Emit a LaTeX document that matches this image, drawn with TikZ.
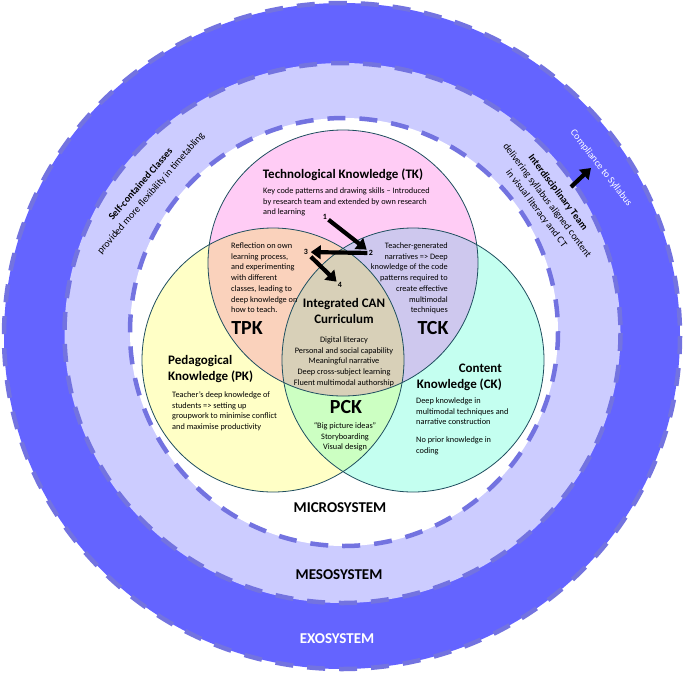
\documentclass[tikz,border=0pt]{standalone}
\usepackage{fontspec}
\setmainfont{Carlito}
\usetikzlibrary{arrows.meta}
\definecolor{exo}{HTML}{6464FF}
\definecolor{meso}{HTML}{CCCCFF}
\definecolor{dashc}{HTML}{7373E0}
\definecolor{tkc}{HTML}{FFCCF5}
\definecolor{pkc}{HTML}{FFFFC6}
\definecolor{ckc}{HTML}{C4FFF0}
\definecolor{tpkc}{HTML}{FAD2BC}
\definecolor{tckc}{HTML}{CEC8EE}
\definecolor{pckc}{HTML}{CCFFC2}
\definecolor{canc}{HTML}{D8D0B8}
\definecolor{vennc}{HTML}{1F4E5F}
\begin{document}
\begin{tikzpicture}[x=1pt,y=-1pt,
  ringline/.style={draw=dashc, line width=4.5pt, dash pattern=on 18pt off 14pt},
  vennline/.style={draw=vennc, line width=0.8pt},
  bodytext/.style={font=\fontsize{8.3}{10.7}\selectfont, inner sep=0pt},
  headtext/.style={font=\fontsize{13}{16.5}\selectfont\bfseries, inner sep=0pt},
  bigtext/.style={font=\fontsize{20}{24}\selectfont\bfseries, inner sep=0pt},
  systext/.style={font=\fontsize{15}{18}\selectfont\bfseries, inner sep=0pt},
  numlabel/.style={font=\fontsize{8}{9}\selectfont\bfseries, inner sep=0.5pt},
  bigarrow/.style={line width=4.2pt, -{Triangle[length=10pt,width=13.5pt]}},
  ringtext/.style={font=\fontsize{10}{13.5}\selectfont, inner sep=0pt, align=center},
]
\useasboundingbox (0,0) rectangle (685,672);
\fill[white] (0,0) rectangle (685,672);
% rings
\filldraw[ringline, fill=exo] (342,336) ellipse [x radius=338, y radius=333];
\filldraw[ringline, fill=meso] (342.5,333) ellipse [x radius=278, y radius=270];
\filldraw[ringline, fill=white] (344,332) ellipse [x radius=214, y radius=214];
% venn fills
\fill[tkc] (343,263) ellipse [x radius=135, y radius=133];
\fill[pkc] (273,360) ellipse [x radius=131, y radius=132];
\fill[ckc] (413,360) ellipse [x radius=131, y radius=132];
\begin{scope}
  \clip (343,263) ellipse [x radius=135, y radius=133];
  \fill[tpkc] (273,360) ellipse [x radius=131, y radius=132];
  \fill[tckc] (413,360) ellipse [x radius=131, y radius=132];
\end{scope}
\begin{scope}
  \clip (273,360) ellipse [x radius=131, y radius=132];
  \fill[pckc] (413,360) ellipse [x radius=131, y radius=132];
  \clip (413,360) ellipse [x radius=131, y radius=132];
  \fill[canc] (343,263) ellipse [x radius=135, y radius=133];
\end{scope}
\draw[vennline] (343,263) ellipse [x radius=135, y radius=133];
\draw[vennline] (273,360) ellipse [x radius=131, y radius=132];
\draw[vennline] (413,360) ellipse [x radius=131, y radius=132];
% TK
\node[headtext, anchor=base] (tkT) at (343,178) {Technological Knowledge (TK)};
\node[bodytext, anchor=base west, align=left] (tkB) at (263,214.9) {Key code patterns and drawing skills – Introduced\\by research team and extended by own research\\and learning};
% TPK / TCK
\node[bodytext, anchor=base west, align=left] (tpkB) at (231,312.7) {Reflection on own\\learning process,\\and experimenting\\with different\\classes, leading to\\deep knowledge on\\how to teach.};
\node[bodytext, anchor=base east, align=right] (tckB) at (448,312.7) {Teacher-generated\\narratives => Deep\\knowledge of the code\\patterns required to\\create effective\\multimodal\\techniques};
\node[bigtext, anchor=base] (tpkL) at (247,334.5) {TPK};
\node[bigtext, anchor=base] (tckL) at (433,334.5) {TCK};
% centre
\node[headtext, anchor=base, align=center] (canT) at (344,323.5) {Integrated CAN\\Curriculum};
\node[bodytext, anchor=base, align=center] (canB) at (344,385.3) {Digital literacy\\Personal and social capability\\Meaningful narrative\\Deep cross-subject learning\\Fluent multimodal authorship};
% PK
\node[headtext, anchor=base west, align=left] (pkT) at (168,380.5) {Pedagogical\\Knowledge (PK)};
\node[bodytext, anchor=base west, align=left] (pkB) at (172,429.6) {Teacher’s deep knowledge of\\students => setting up\\groupwork to minimise conflict\\and maximise productivity};
% CK
\node[headtext, anchor=base east, align=right] (ckT) at (502,388.5) {Content\\Knowledge (CK)};
\node[bodytext, anchor=base west, align=left] (ckB) at (416,424.9) {Deep knowledge in\\multimodal techniques and\\narrative construction};
\node[bodytext, anchor=base west, align=left] (ckB2) at (416,453.2) {No prior knowledge in\\coding};
% PCK
\node[bigtext, anchor=base] (pckL) at (346,413.5) {PCK};
\node[bodytext, anchor=base, align=center] (pckB) at (345,449.9) {“Big picture ideas”\\Storyboarding\\Visual design};
% systems
\node[systext, anchor=base] (micro) at (340,512) {MICROSYSTEM};
\node[systext, anchor=base] (meso) at (339,579) {MESOSYSTEM};
\node[systext, anchor=base, text=white] (exo) at (337,643) {EXOSYSTEM};
% ring texts
\node[ringtext, rotate=49] (selfc) at (146,189) {\textbf{Self-contained Classes}\\provided more flexibility in timetabling};
\node[ringtext, rotate=-53] (interd) at (547,200.5) {\textbf{Interdisciplinary Team}\\delivering syllabus aligned content\\in visual literacy and CT};
\node[ringtext, rotate=-52, text=white] (compl) at (601,168) {Compliance to Syllabus};
\coordinate (ca1) at (571,187);
\coordinate (ca2) at (591,168);
\draw[bigarrow] (ca1) -- (ca2);
% numbered arrows
\node[numlabel] (n1) at (325,217) {1};
\node[numlabel] (n2) at (371,253) {2};
\node[numlabel] (n3) at (306,252) {3};
\node[numlabel] (n4) at (340,285) {4};
\draw[bigarrow, shorten <=1pt, shorten >=2pt] (n1) -- (n2);
\draw[bigarrow, shorten <=1pt, shorten >=2pt] (n2) -- (n3);
\draw[bigarrow, shorten <=3pt, shorten >=1pt] (n3) -- (n4);
\end{tikzpicture}
\end{document}
